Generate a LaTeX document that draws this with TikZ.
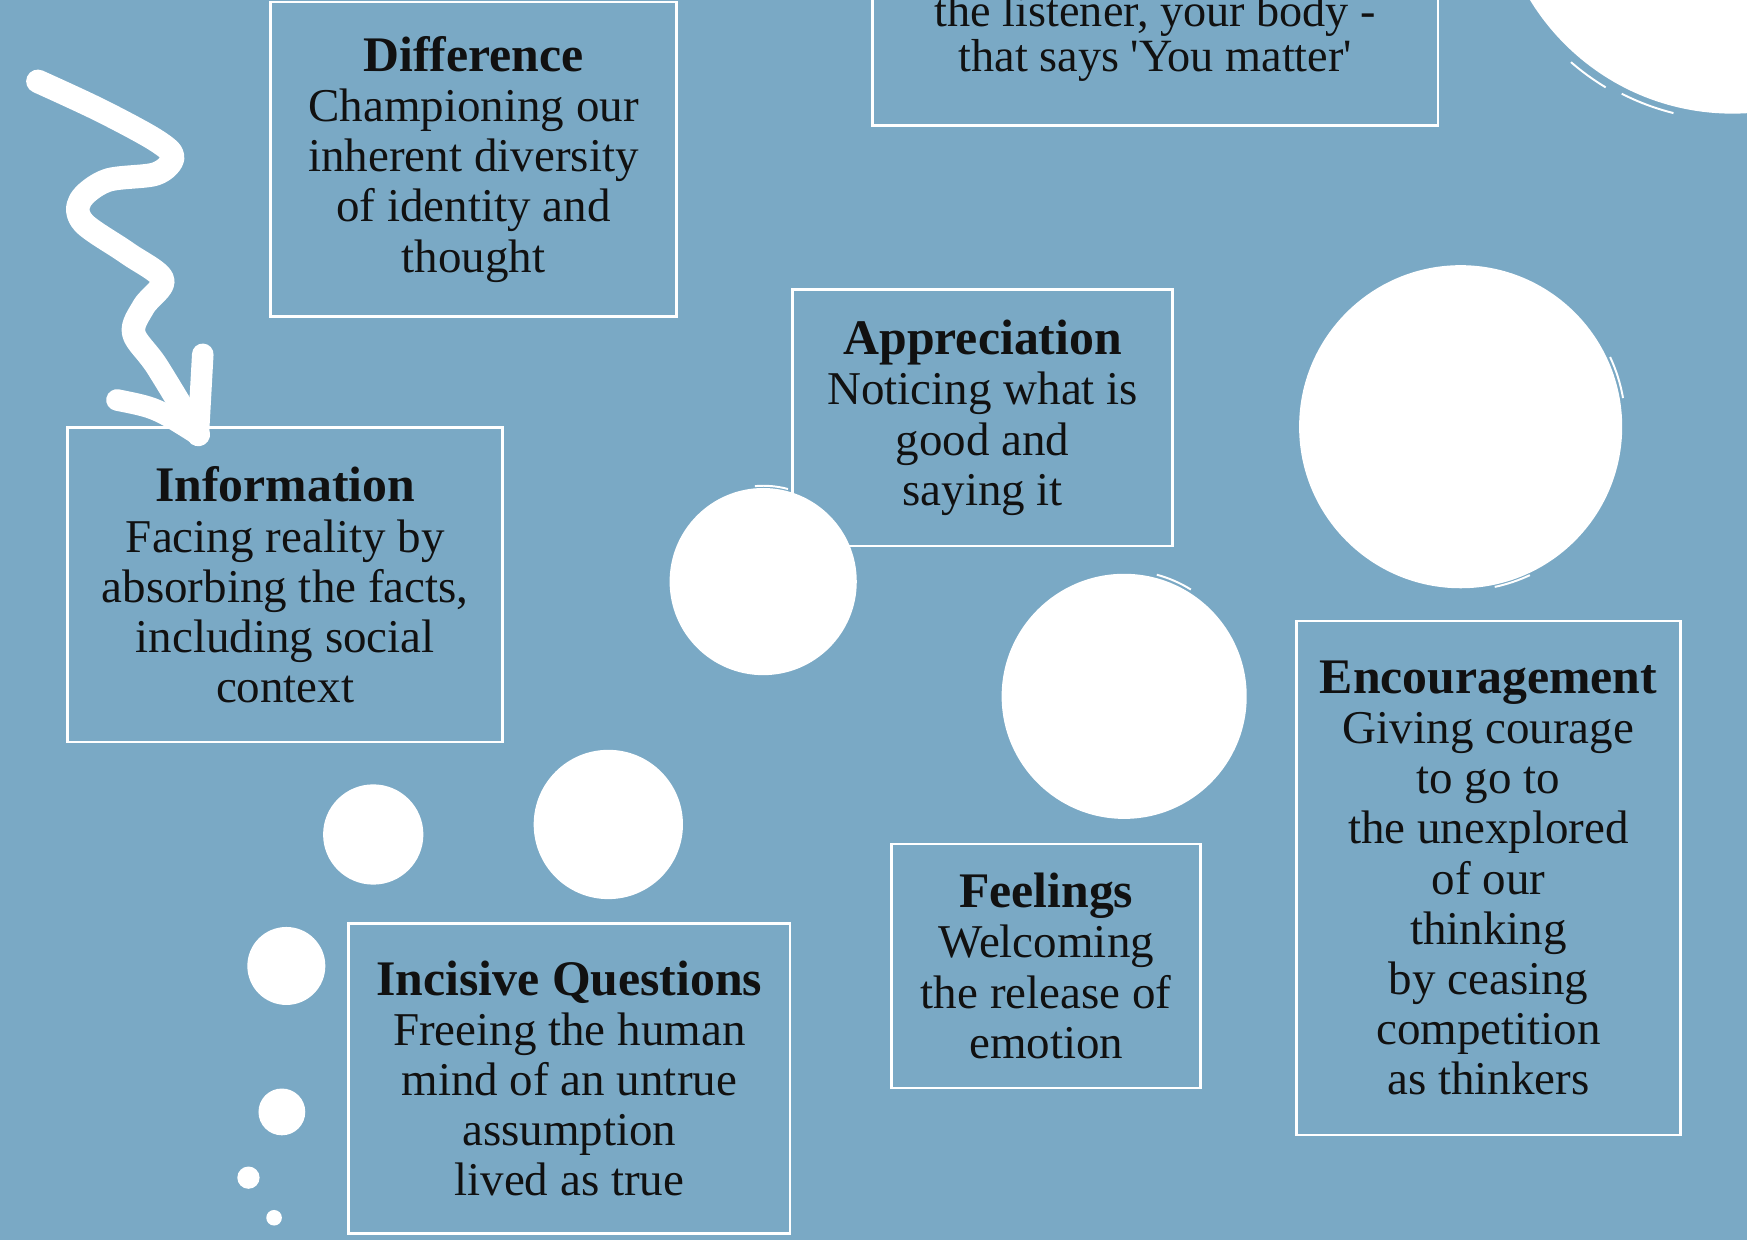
\documentclass[tikz,border=0pt]{standalone}
\usepackage{fontspec}
\setmainfont{Liberation Serif}
\definecolor{think_blue}{RGB}{122, 169, 197}
\definecolor{think_ink}{RGB}{17, 17, 17}
\usetikzlibrary{positioning, calc}
\newcommand{\cardhead}[1]{\textbf{\fontsize{12.7}{12.8}\selectfont #1}}

\begin{document}
\begin{tikzpicture}[x=0.01cm, y=-0.01cm,
    card/.style={draw=white, line width=0.7pt, inner sep=0pt, align=center,
                 text=think_ink, font=\fontsize{12}{12.8}\selectfont},
    bubble/.style={fill=white},
    streak/.style={draw=white, line width=0.5pt},
    squiggle/.style={draw=white, line width=6pt, line cap=round, line join=round}]
  \clip (0,0) rectangle (1568,1113);
  \fill[think_blue] (0,0) rectangle (1568,1113);

  % brush circles
  \fill[bubble] (1555,-111) circle (213);
  \fill[bubble] (1311,383) circle (145);
  \fill[bubble] (1009,625) circle (110);
  \fill[bubble] (685,522) circle (84);
  \fill[bubble] (546,740) circle (67);
  \fill[bubble] (335,749) circle (45);
  \fill[bubble] (257,867) circle (35);
  \fill[bubble] (253,998) circle (21);
  \fill[bubble] (223,1057) circle (10);
  \fill[bubble] (246,1093) circle (7);
  \draw[streak] (1555,-111) ++(104:219) arc[start angle=104, end angle=117, radius=219];
  \draw[streak] (1555,-111) ++(121:221) arc[start angle=121, end angle=131, radius=221];
  \draw[streak] (1311,383) ++(-25:148) arc[start angle=-25, end angle=-10, radius=148];
  \draw[streak] (1311,383) ++(65:147) arc[start angle=65, end angle=78, radius=147];
  \draw[streak] (1009,625) ++(-75:113) arc[start angle=-75, end angle=-58, radius=113];
  \draw[streak] (685,522) ++(-95:86) arc[start angle=-95, end angle=-75, radius=86];

  % squiggly arrow
  \coordinate (tail) at (34,73);
  \coordinate (tip) at (178,390);
  \draw[squiggle] plot[smooth, tension=0.55] coordinates {(tail) (90,99) (140,126)
      (155,141) (140,156) (96,162) (72,180) (75,200) (114,227) (146,251)
      (129,275) (120,299) (141,329) (tip)};
  \draw[squiggle, line width=5.5pt] (105,359) .. controls (140,366) .. (tip) -- (182,318);

  % cards
  \node[card, minimum width=5.07cm, minimum height=2.28cm, anchor=south]
    (attention) at (1037,114) {};
  \node[card, draw=none, font=\fontsize{11.8}{11.6}\selectfont]
    (attentiontext) at (1037,34) {the listener, your body -\\
      that says \textquotesingle You matter\textquotesingle};
  \node[card, minimum width=3.64cm, minimum height=2.82cm] (difference) at (425,143)
    {\cardhead{Difference}\\ Championing our\\ inherent diversity\\ of identity and\\ thought};
  \node[card, minimum width=3.90cm, minimum height=2.82cm] (information) at (256,525)
    {\cardhead{Information}\\ Facing reality by\\ absorbing the facts,\\ including social\\ context};
  \node[card, minimum width=3.41cm, minimum height=2.30cm] (appreciation) at (882,375)
    {\cardhead{Appreciation}\\ Noticing what is\\ good and\\ saying it};
  \node[card, minimum width=3.44cm, minimum height=4.61cm] (encouragement) at (1336,788)
    {\cardhead{Encouragement}\\ Giving courage\\ to go to\\ the unexplored\\ of our\\ thinking\\
     by ceasing\\ competition\\ as thinkers};
  \node[card, minimum width=2.77cm, minimum height=2.19cm] (feelings) at (939,867)
    {\cardhead{Feelings}\\ Welcoming\\ the release of\\ emotion};
  \node[card, minimum width=3.96cm, minimum height=2.78cm] (incisive) at (511,968)
    {\cardhead{Incisive Questions}\\ Freeing the human\\ mind of an untrue\\ assumption\\ lived as true};
\end{tikzpicture}
\end{document}
